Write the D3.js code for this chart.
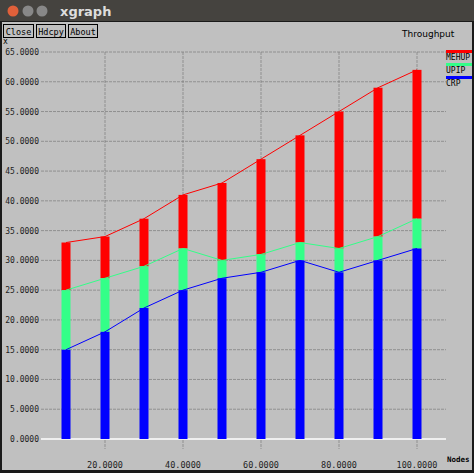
<!DOCTYPE html>
<html><head><meta charset="utf-8">
<script src="https://cdn.jsdelivr.net/npm/d3@7"></script>
<style>body{margin:0;background:#000}</style>
</head><body>
<svg id="svg"></svg>
<script>
const nodes = [10, 20, 30, 40, 50, 60, 70, 80, 90, 100];
const crp = [15, 18, 22, 25, 27, 28, 30, 28, 30, 32];
const upip = [25, 27, 29, 32, 30, 31, 33, 32, 34, 37];
const mehup = [33, 34, 37, 41, 43, 47, 51, 55, 59, 62];
const yTicks = d3.range(0, 66, 5);
const xTicks = [20, 40, 60, 80, 100];
const series = [
    {name: "MEHUP", color: "#ff0000", top: mehup, base: upip},
    {name: "UPIP", color: "#33ff88", top: upip, base: crp},
    {name: "CRP", color: "#0000ff", top: crp, base: nodes.map(() => 0)}
];

const width = 474, height = 473;
let svg = d3.select("#svg").attr("width", width).attr("height", height);

// window frame
svg.append("rect").attr("width", width).attr("height", height).attr("fill", "#1a1a1a");
svg.append("rect").attr("x", 0).attr("y", 0).attr("width", width).attr("height", 21).attr("fill", "#45433f");
[[13, "#e0603a"], [28, "#888"], [42, "#888"]].forEach(([cx, c]) => {
    svg.append("circle").attr("cx", cx).attr("cy", 11).attr("r", 5.5).attr("fill", c);
});
svg.append("text").attr("x", 60).attr("y", 16).attr("fill", "#ddd")
    .style("font", "bold 13px 'DejaVu Sans'").text("xgraph");
svg.append("rect").attr("x", 2).attr("y", 22).attr("width", 470).attr("height", 448).attr("fill", "#c0c0c0");

// buttons
[["Close", 3, 30], ["Hdcpy", 36, 29], ["About", 68, 29]].forEach(([t, x, w]) => {
    svg.append("rect").attr("x", x + 0.5).attr("y", 24.5).attr("width", w).attr("height", 13)
        .attr("fill", "none").attr("stroke", "#000");
    svg.append("text").attr("x", x + w / 2 + 0.5).attr("y", 34.5).attr("text-anchor", "middle")
        .style("font", "8.5px 'DejaVu Sans Mono'").text(t);
});
svg.append("text").attr("x", 402).attr("y", 37).style("font", "9px 'DejaVu Sans'").text("Throughput");
svg.append("text").attr("x", 3).attr("y", 44).style("font", "8px 'DejaVu Sans Mono'").text("x");

const x = d3.scaleLinear().domain([0, 100]).range([27, 417]);
const y = d3.scaleLinear().domain([0, 65]).range([439, 52]);
const left = 41, right = 446;

const g = svg.append("g");
// grid
g.selectAll(".hg").data(yTicks).join("line")
    .attr("x1", left).attr("x2", right).attr("y1", d => y(d)).attr("y2", d => y(d))
    .attr("stroke", d => d === 0 ? "#fff" : "#707070").attr("stroke-width", d => d === 0 ? 1.5 : 0.6)
    .attr("stroke-dasharray", d => d === 0 ? null : "3,1");
g.selectAll(".vg").data(xTicks).join("line")
    .attr("x1", d => x(d)).attr("x2", d => x(d)).attr("y1", y(65)).attr("y2", y(0) + 10)
    .attr("stroke", "#707070").attr("stroke-width", 0.6).attr("stroke-dasharray", "3,1");

g.selectAll(".yl").data(yTicks).join("text")
    .attr("x", left - 2).attr("y", d => y(d) + 3).attr("text-anchor", "end")
    .style("font", "8px 'DejaVu Sans Mono'").attr("fill", "#222").text(d => d3.format(".4f")(d));
g.selectAll(".xl").data(xTicks).join("text")
    .attr("x", d => x(d)).attr("y", 468).attr("text-anchor", "middle")
    .style("font", "8.5px 'DejaVu Sans Mono'").attr("fill", "#222").text(d => d3.format(".4f")(d));
svg.append("text").attr("x", 447).attr("y", 462).style("font", "bold 7.5px 'DejaVu Sans Mono'").text("Nodes");

// bars and lines
series.forEach(s => {
    g.selectAll(null).data(nodes).join("rect")
        .attr("x", d => x(d) - 4.5).attr("width", 9)
        .attr("y", (d, i) => y(s.top[i])).attr("height", (d, i) => y(s.base[i]) - y(s.top[i]))
        .attr("fill", s.color);
});
series.forEach(s => {
    g.append("path").datum(nodes)
        .attr("d", d3.line().x(d => x(d)).y((d, i) => y(s.top[i])))
        .attr("fill", "none").attr("stroke", s.color).attr("stroke-width", 1);
});

// legend
series.forEach((s, i) => {
    const ly = 50 + i * 13;
    svg.append("rect").attr("x", 446).attr("y", ly).attr("width", 26).attr("height", 3).attr("fill", s.color);
    svg.append("text").attr("x", 446).attr("y", ly + 10).style("font", "8px 'DejaVu Sans Mono'").text(s.name);
});
</script>
</body></html>
